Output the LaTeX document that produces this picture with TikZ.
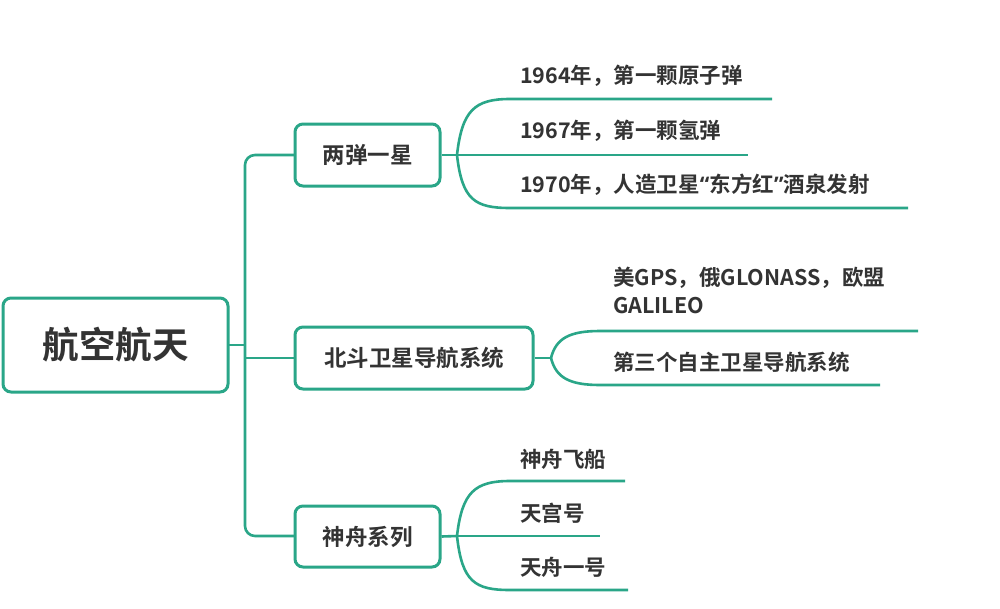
\documentclass[tikz,border=0pt]{standalone}
\usepackage{fontspec}
\setmainfont{Noto Sans CJK SC}[BoldFont={* Bold}]
\newfontfamily\latq{Open Sans}
\definecolor{tl}{HTML}{2AA688}
\definecolor{tx}{HTML}{333333}
\begin{document}
\begin{tikzpicture}[x=1pt,y=-1pt,
  box/.style={draw=tl,line width=3pt,rounded corners=8pt,fill=white,text=tx,font=\bfseries\fontsize{22.5}{26}\selectfont,inner sep=0},
  ln/.style={draw=tl,line width=2.6pt},
  lf/.style={text=tx,font=\bfseries\fontsize{21.5}{26}\selectfont,anchor=west,inner sep=0}]
\useasboundingbox (0,0) rectangle (1000,608);
\fill[white] (0,0) rectangle (1000,608);
% trunk
\draw[ln,rounded corners=10pt] (295,155) -- (245,155) -- (245,536) -- (295,536);
\draw[ln] (228,345) -- (245,345);
\draw[ln] (245,358) -- (295,358);
% root
\node[box,minimum width=225pt,minimum height=94pt,font=\bfseries\fontsize{36.5}{40}\selectfont] (r) at (115.5,345) {航空航天};
\node[box,minimum width=145pt,minimum height=62pt] (c1) at (367.5,155) {两弹一星};
\node[box,minimum width=238pt,minimum height=62pt] (c2) at (414,358) {北斗卫星导航系统};
\node[box,minimum width=145pt,minimum height=61pt] (c3) at (367.5,536.5) {神舟系列};
% branch 1
\coordinate (b1) at (457,155);
\draw[ln] (c1.east) -- (b1);
\draw[ln] (b1) .. controls (462,110) and (475,99) .. (510,99) -- (772,99);
\draw[ln] (b1) -- (748,155);
\draw[ln] (b1) .. controls (462,200) and (475,208) .. (510,208) -- (908,208);
\node[lf] (l11) at (520,76) {1964年，第一颗原子弹};
\node[lf] (l12) at (520,131) {1967年，第一颗氢弹};
\node[lf] (l13) at (520,185) {1970年，人造卫星{\latq\char"201C}东方红{\latq\char"201D}酒泉发射};
% branch 2
\coordinate (b2) at (551,358);
\draw[ln] (c2.east) -- (b2);
\draw[ln] (b2) .. controls (556,338) and (570,331) .. (600,331) -- (918,331);
\draw[ln] (b2) .. controls (556,378) and (570,385) .. (600,385) -- (880,385);
\node[lf] (l21) at (613,278) {美GPS，俄GLONASS，欧盟};
\node[lf] (l21b) at (613,306) {GALILEO};
\node[lf] (l22) at (613,362) {第三个自主卫星导航系统};
% branch 3
\coordinate (b3) at (457,536);
\draw[ln] (c3.east) -- (b3);
\draw[ln] (b3) .. controls (462,492) and (475,481) .. (510,481) -- (625,481);
\draw[ln] (b3) -- (600,536);
\draw[ln] (b3) .. controls (462,582) and (475,590) .. (510,590) -- (628,590);
\node[lf] (l31) at (520,459) {神舟飞船};
\node[lf] (l32) at (520,513) {天宫号};
\node[lf] (l33) at (520,567) {天舟一号};
\end{tikzpicture}
\end{document}
